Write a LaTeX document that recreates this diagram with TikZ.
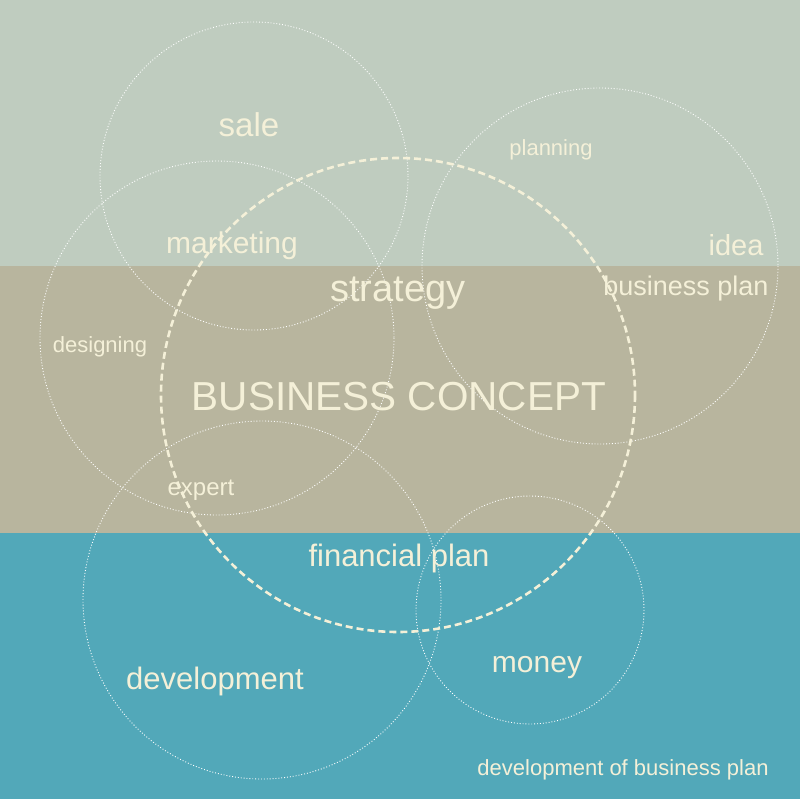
\documentclass[tikz,border=0pt]{standalone}
\usepackage{fontspec}
\setmainfont{Liberation Sans}
\definecolor{topc}{HTML}{BFCCBF}
\definecolor{midc}{HTML}{B8B59E}
\definecolor{botc}{HTML}{52A8B9}
\definecolor{cream}{HTML}{F4F0D8}
\tikzset{ring/.style={draw=white, dotted, line width=0.9pt},
 big/.style={draw=cream, dash pattern=on 7pt off 4pt, line width=2.6pt},
 lbl/.style={text=cream, inner sep=0pt, font=#1}}
\begin{document}
\begin{tikzpicture}[x=1pt,y=-1pt]
\fill[topc] (0,0) rectangle (800,266);
\fill[midc] (0,266) rectangle (800,533);
\fill[botc] (0,533) rectangle (800,799);
\useasboundingbox (0,0) rectangle (800,799);
\draw[ring] (254,176) circle (154);
\draw[ring] (600,266) circle (178);
\draw[ring] (217,338) circle (177);
\draw[ring] (262,600) circle (179);
\draw[ring] (530,610) circle (114);
\draw[big] (398,395) circle (237);
\node[lbl=\fontsize{33}{33}\selectfont] (sale) at (249,125) {sale};
\node[lbl=\fontsize{22}{22}\selectfont] (planning) at (551,150) {planning};
\node[lbl=\fontsize{29}{29}\selectfont] (idea) at (736,245) {idea};
\node[lbl=\fontsize{27}{27}\selectfont] (bp) at (686,289) {business plan};
\node[lbl=\fontsize{30}{30}\selectfont] (mk) at (232,246) {marketing};
\node[lbl=\fontsize{38}{38}\selectfont] (st) at (398,293) {strategy};
\node[lbl=\fontsize{22}{22}\selectfont] (des) at (100,347) {designing};
\node[lbl=\fontsize{40.5}{40.5}\selectfont] (bc) at (399,397) {BUSINESS CONCEPT};
\node[lbl=\fontsize{24}{24}\selectfont] (ex) at (201,490) {expert};
\node[lbl=\fontsize{31}{31}\selectfont] (fp) at (399,558) {financial plan};
\node[lbl=\fontsize{31}{31}\selectfont] (dev) at (215,681) {development};
\node[lbl=\fontsize{30}{30}\selectfont] (mon) at (537,668) {money};
\node[lbl=\fontsize{22}{22}\selectfont] (dbp) at (623,770) {development of business plan};
\end{tikzpicture}
\end{document}
